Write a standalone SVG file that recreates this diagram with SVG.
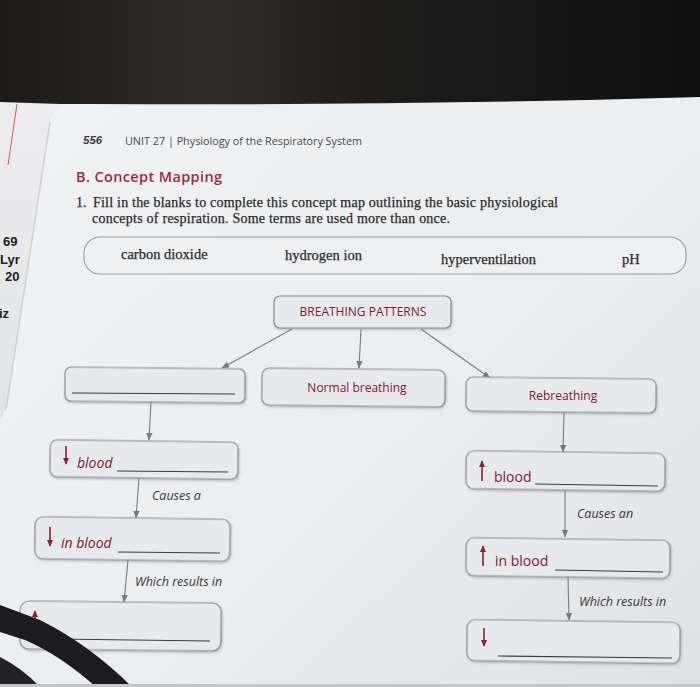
<svg xmlns="http://www.w3.org/2000/svg" width="700" height="687" viewBox="0 0 700 687">
<defs>
  <linearGradient id="page" x1="0" y1="0" x2="1" y2="1">
    <stop offset="0" stop-color="#f2f3f5"/>
    <stop offset="0.6" stop-color="#ecedef"/>
    <stop offset="1" stop-color="#e0e1e4"/>
  </linearGradient>
  <linearGradient id="under" x1="0" y1="0" x2="0" y2="1">
    <stop offset="0" stop-color="#ededef"/>
    <stop offset="1" stop-color="#e2e3e6"/>
  </linearGradient>
  <linearGradient id="top" x1="0" y1="0" x2="1" y2="0">
    <stop offset="0" stop-color="#1b1a19"/>
    <stop offset="0.3" stop-color="#2e2c2a"/>
    <stop offset="0.5" stop-color="#1f1e1d"/>
    <stop offset="1" stop-color="#0f0f10"/>
  </linearGradient>
  <marker id="ah" viewBox="0 0 10 10" refX="9" refY="5" markerWidth="8" markerHeight="8" orient="auto" markerUnits="userSpaceOnUse">
    <path d="M0,1 L10,5 L0,9 Z" fill="#7a7a7c"/>
  </marker>
  <marker id="ra" viewBox="0 0 10 10" refX="9" refY="5" markerWidth="7" markerHeight="7" orient="auto" markerUnits="userSpaceOnUse">
    <path d="M0,0.5 L10,5 L0,9.5 Z" fill="#8a2233"/>
  </marker>
  <filter id="sh" x="-5%" y="-10%" width="110%" height="130%">
    <feDropShadow dx="1" dy="1.5" stdDeviation="1.2" flood-color="#8a8b8e" flood-opacity="0.5"/>
  </filter>
</defs>
<style>
  .box{fill:#e8e9ec;stroke:#8c8d90;stroke-width:1.2;filter:url(#sh)}
  .bank{fill:#eff0f2;stroke:#9a9b9e;stroke-width:1.1}
  .lbl{font-family:"Open Sans","Liberation Sans",sans-serif;fill:#7d2030;font-size:12px}
  .lbl2{font-family:"Open Sans","Liberation Sans",sans-serif;fill:#7d2030;font-size:14px}
  .ital{font-family:"Open Sans","Liberation Sans",sans-serif;fill:#3a3a3c;font-size:12.5px;font-style:italic}
  .serif{font-family:"Liberation Serif",serif;fill:#2a2a2c;stroke:#2a2a2c;stroke-width:0.25}
  .blank{stroke:#3d3d40;stroke-width:1.1}
  .conn{stroke:#7a7a7c;stroke-width:1.1;fill:none;marker-end:url(#ah)}
  .red{stroke:#8a2233;stroke-width:1.6;marker-end:url(#ra)}
</style>

<!-- background: page, underlying page, dark surface -->
<rect x="0" y="0" width="700" height="687" fill="url(#page)"/>
<path d="M0,102 L62,104 Q52,110 50,122 L6,410 L0,420 Z" fill="url(#under)"/>
<path d="M50,122 L6,410" stroke="#d0d1d4" stroke-width="1.5"/>
<path d="M17,104 L8,165" stroke="#d9545e" stroke-width="1"/>
<path d="M0,0 H700 V97 Q400,106 90,104 L60,104 L0,102 Z" fill="url(#top)"/>
<g font-family="Liberation Sans,sans-serif" font-weight="bold" font-size="13" fill="#222">
  <text x="3" y="246">69</text>
  <text x="0" y="264">Lyr</text>
  <text x="5" y="281">20</text>
  <text x="-1" y="318">iz</text>
</g>

<!-- header -->
<text x="83" y="144" font-family="Liberation Sans,sans-serif" font-weight="bold" font-style="italic" font-size="11.5" fill="#3a3a3c">556</text>
<text x="125" y="145" font-family="Open Sans,Liberation Sans,sans-serif" font-size="10.8" fill="#4a4a4c" textLength="237">UNIT 27  |  Physiology of the Respiratory System</text>
<text x="76" y="182" font-family="Open Sans,Liberation Sans,sans-serif" font-weight="600" font-size="14.5" fill="#a3293c" textLength="146">B. Concept Mapping</text>
<text x="76" y="207" class="serif" font-size="14">1.</text>
<text x="93" y="207" class="serif" font-size="14" textLength="465">Fill in the blanks to complete this concept map outlining the basic physiological</text>
<text x="92" y="223" class="serif" font-size="14" textLength="358">concepts of respiration. Some terms are used more than once.</text>

<!-- word bank -->
<g id="wordbank">
  <rect class="bank" x="84" y="237" width="602" height="37" rx="16"/>
  <text class="serif" font-size="14.5" x="121" y="259">carbon dioxide</text>
  <text class="serif" font-size="14.5" x="285" y="260">hydrogen ion</text>
  <text class="serif" font-size="14.5" x="441" y="264">hyperventilation</text>
  <text class="serif" font-size="14.5" x="622" y="264">pH</text>
</g>

<!-- connectors -->
<g id="connectors">
  <line class="conn" x1="292" y1="329" x2="222" y2="368"/>
  <line class="conn" x1="361" y1="329" x2="359" y2="368"/>
  <line class="conn" x1="421" y1="329" x2="490" y2="378"/>
  <line class="conn" x1="151" y1="401" x2="149" y2="440"/>
  <line class="conn" x1="139" y1="478" x2="136" y2="518"/>
  <line class="conn" x1="128" y1="560" x2="124" y2="602"/>
  <line class="conn" x1="564" y1="412" x2="563" y2="452"/>
  <line class="conn" x1="565" y1="491" x2="565" y2="537"/>
  <line class="conn" x1="568" y1="577" x2="569" y2="620"/>
  <text class="ital" x="152" y="500">Causes a</text>
  <text class="ital" x="135" y="586">Which results in</text>
  <text class="ital" x="577" y="518">Causes an</text>
  <text class="ital" x="579" y="606">Which results in</text>
</g>

<!-- nodes -->
<g id="breathing-patterns">
  <rect class="box" x="274" y="296" width="177" height="32" rx="6"/>
  <text class="lbl" font-size="10.5" x="363" y="316" text-anchor="middle">BREATHING PATTERNS</text>
</g>
<g id="blank-pattern">
  <rect class="box" x="65" y="368" width="180" height="34" rx="6" transform="rotate(0.6 155 385)"/>
  <line class="blank" x1="72" y1="393" x2="235" y2="394"/>
</g>
<g id="normal-breathing">
  <rect class="box" x="262" y="369" width="183" height="37" rx="7" transform="rotate(0.6 353 387)"/>
  <text class="lbl" x="357" y="392" text-anchor="middle">Normal breathing</text>
</g>
<g id="rebreathing">
  <rect class="box" x="466" y="378" width="190" height="34" rx="7" transform="rotate(0.6 561 395)"/>
  <text class="lbl" x="563" y="400" text-anchor="middle">Rebreathing</text>
</g>

<g id="left-blood">
  <rect class="box" x="50" y="441" width="188" height="37" rx="7" transform="rotate(0.8 144 459)"/>
  <line class="red" x1="66" y1="446" x2="66" y2="464"/>
  <text class="lbl2" font-style="italic" x="77" y="468">blood</text>
  <line class="blank" x1="117" y1="471" x2="228" y2="472"/>
</g>
<g id="left-in-blood">
  <rect class="box" x="35" y="518" width="195" height="42" rx="8" transform="rotate(0.8 132 539)"/>
  <line class="red" x1="50" y1="527" x2="50" y2="546"/>
  <text class="lbl2" font-style="italic" x="61" y="548">in blood</text>
  <line class="blank" x1="118" y1="552" x2="220" y2="553"/>
</g>
<g id="left-result">
  <rect class="box" x="20" y="602" width="201" height="48" rx="9" transform="rotate(0.6 120 626)"/>
  <line class="red" x1="35" y1="628" x2="35" y2="611"/>
  <line class="blank" x1="55" y1="639" x2="210" y2="641"/>
</g>

<g id="right-blood">
  <rect class="box" x="466" y="452" width="199" height="38" rx="8" transform="rotate(0.8 565 471)"/>
  <line class="red" x1="482" y1="481" x2="482" y2="461"/>
  <text class="lbl2" x="494" y="482">blood</text>
  <line class="blank" x1="535" y1="484" x2="658" y2="486"/>
</g>
<g id="right-in-blood">
  <rect class="box" x="466" y="539" width="204" height="38" rx="8" transform="rotate(0.8 568 558)"/>
  <line class="red" x1="483" y1="566" x2="483" y2="546"/>
  <text class="lbl2" x="495" y="566">in blood</text>
  <line class="blank" x1="555" y1="570" x2="663" y2="572"/>
</g>
<g id="right-result">
  <rect class="box" x="467" y="621" width="213" height="41" rx="8" transform="rotate(0.8 573 641)"/>
  <line class="red" x1="484" y1="628" x2="484" y2="646"/>
  <line class="blank" x1="498" y1="656" x2="672" y2="658"/>
</g>

<!-- foreground: dark strap bottom-left and bottom edge -->
<path d="M0,605 L40,620 Q90,645 132,687 L96,687 Q60,655 25,640 L0,632 Z" fill="#1c1c1e"/>
<path d="M0,657 Q22,668 40,687 L0,687 Z" fill="#232325"/>
<rect x="0" y="684" width="700" height="3" fill="#c4c5c8"/>
</svg>
